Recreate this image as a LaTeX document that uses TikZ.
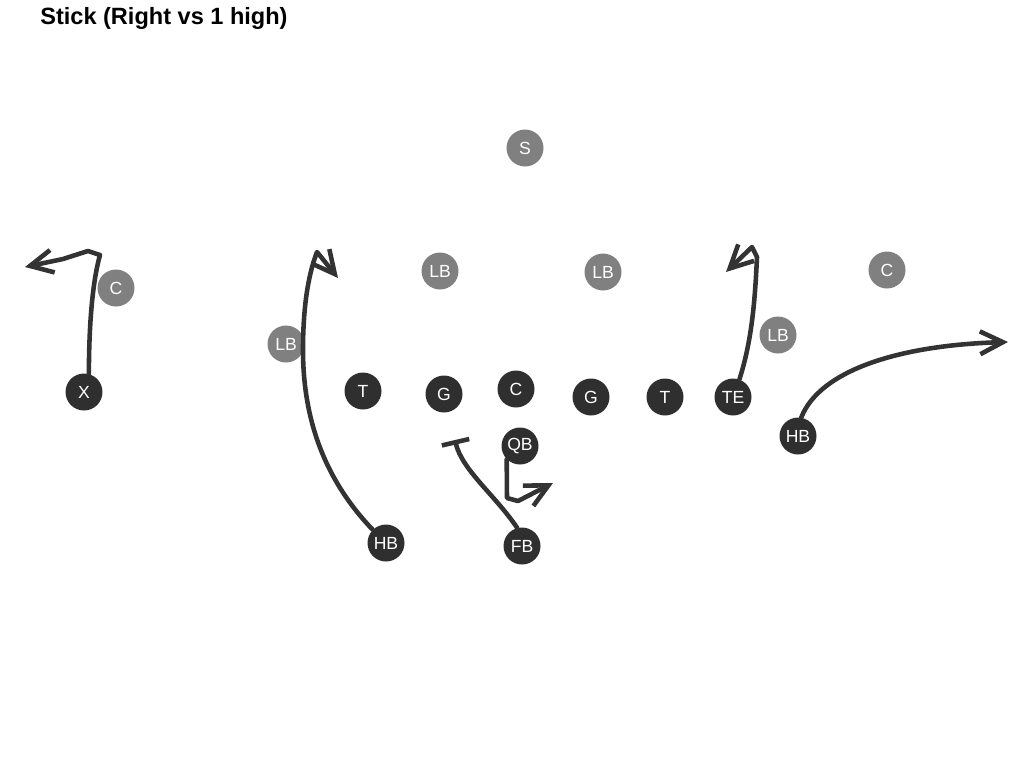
\documentclass[tikz,border=0pt]{standalone}
\usepackage{fontspec}
\setmainfont{Liberation Sans}
\usetikzlibrary{arrows.meta}

\definecolor{offgray}{HTML}{2F2F2F}
\definecolor{defgray}{HTML}{808080}
\definecolor{routegray}{HTML}{333333}

\tikzset{
    off/.style={circle, fill=offgray, text=white, minimum size=0.74cm, inner sep=0pt, font=\fontsize{10}{12}\selectfont},
    def/.style={circle, fill=defgray, text=white, minimum size=0.74cm, inner sep=0pt, font=\fontsize{10}{12}\selectfont},
    route/.style={draw=routegray, line width=2.6pt, line cap=round, line join=round},
    tip/.style={-{Straight Barb[length=13pt, width=13pt, line width=2.6pt]}},
    block/.style={-{Bar[width=16pt, line width=2.6pt]}}
}

\begin{document}
\begin{tikzpicture}[x=0.02cm, y=-0.02cm]
        \useasboundingbox (0, 0) rectangle (1024, 768);

        \node[anchor=base west, inner sep=0pt, font=\fontsize{13.4}{16}\selectfont\bfseries] (title) at (40, 24) {Stick (Right vs 1 high)};

        % defense
        \node[def] (S) at (525, 148) {S};
        \node[def] (lbA) at (440, 271) {LB};
        \node[def] (lbB) at (603, 272) {LB};
        \node[def] (lbC) at (778, 335) {LB};
        \node[def] (lbD) at (286, 344) {LB};
        \node[def] (cL) at (116, 288) {C};
        \node[def] (cR) at (887, 270) {C};

        % offense
        \node[off] (X) at (84, 392) {X};
        \node[off] (tL) at (363, 391) {T};
        \node[off] (gL) at (444, 394) {G};
        \node[off] (C) at (516, 389) {C};
        \node[off] (gR) at (591, 397) {G};
        \node[off] (tR) at (665, 397) {T};
        \node[off] (TE) at (733, 397) {TE};
        \node[off] (hbR) at (798, 436) {HB};
        \node[off] (QB) at (520, 446) {QB};
        \node[off] (hbL) at (386, 543) {HB};
        \node[off] (FB) at (522, 546) {FB};

        % route ends
        \coordinate (xEnd) at (25, 267);
        \coordinate (hbLEnd) at (338, 278);
        \coordinate (teEnd) at (726, 272);
        \coordinate (hbREnd) at (1008, 342);
        \coordinate (fbEnd) at (455, 440);
        \coordinate (qbEnd) at (553, 483);

        \draw[route, tip] (X.75) .. controls (89, 320) and (93, 280) .. (100, 255) -- (88, 251) -- (63, 259) -- (xEnd);
        \draw[route, tip] (hbL.north west) .. controls (325, 480) and (303, 420) .. (303, 350)
            .. controls (303, 300) and (310, 270) .. (317, 252) -- (hbLEnd);
        \draw[route, tip] (TE.70) .. controls (752, 340) and (755, 300) .. (757, 257) -- (752, 247) -- (teEnd);
        \draw[route, tip] (hbR.80) .. controls (820, 370) and (900, 345) .. (hbREnd);
        \draw[route, block] (FB.105) .. controls (495, 495) and (462, 470) .. (fbEnd);
        \draw[route, tip] (QB.south west) -- (507, 498) -- (518, 501) -- (qbEnd);

    \end{tikzpicture}
\end{document}
